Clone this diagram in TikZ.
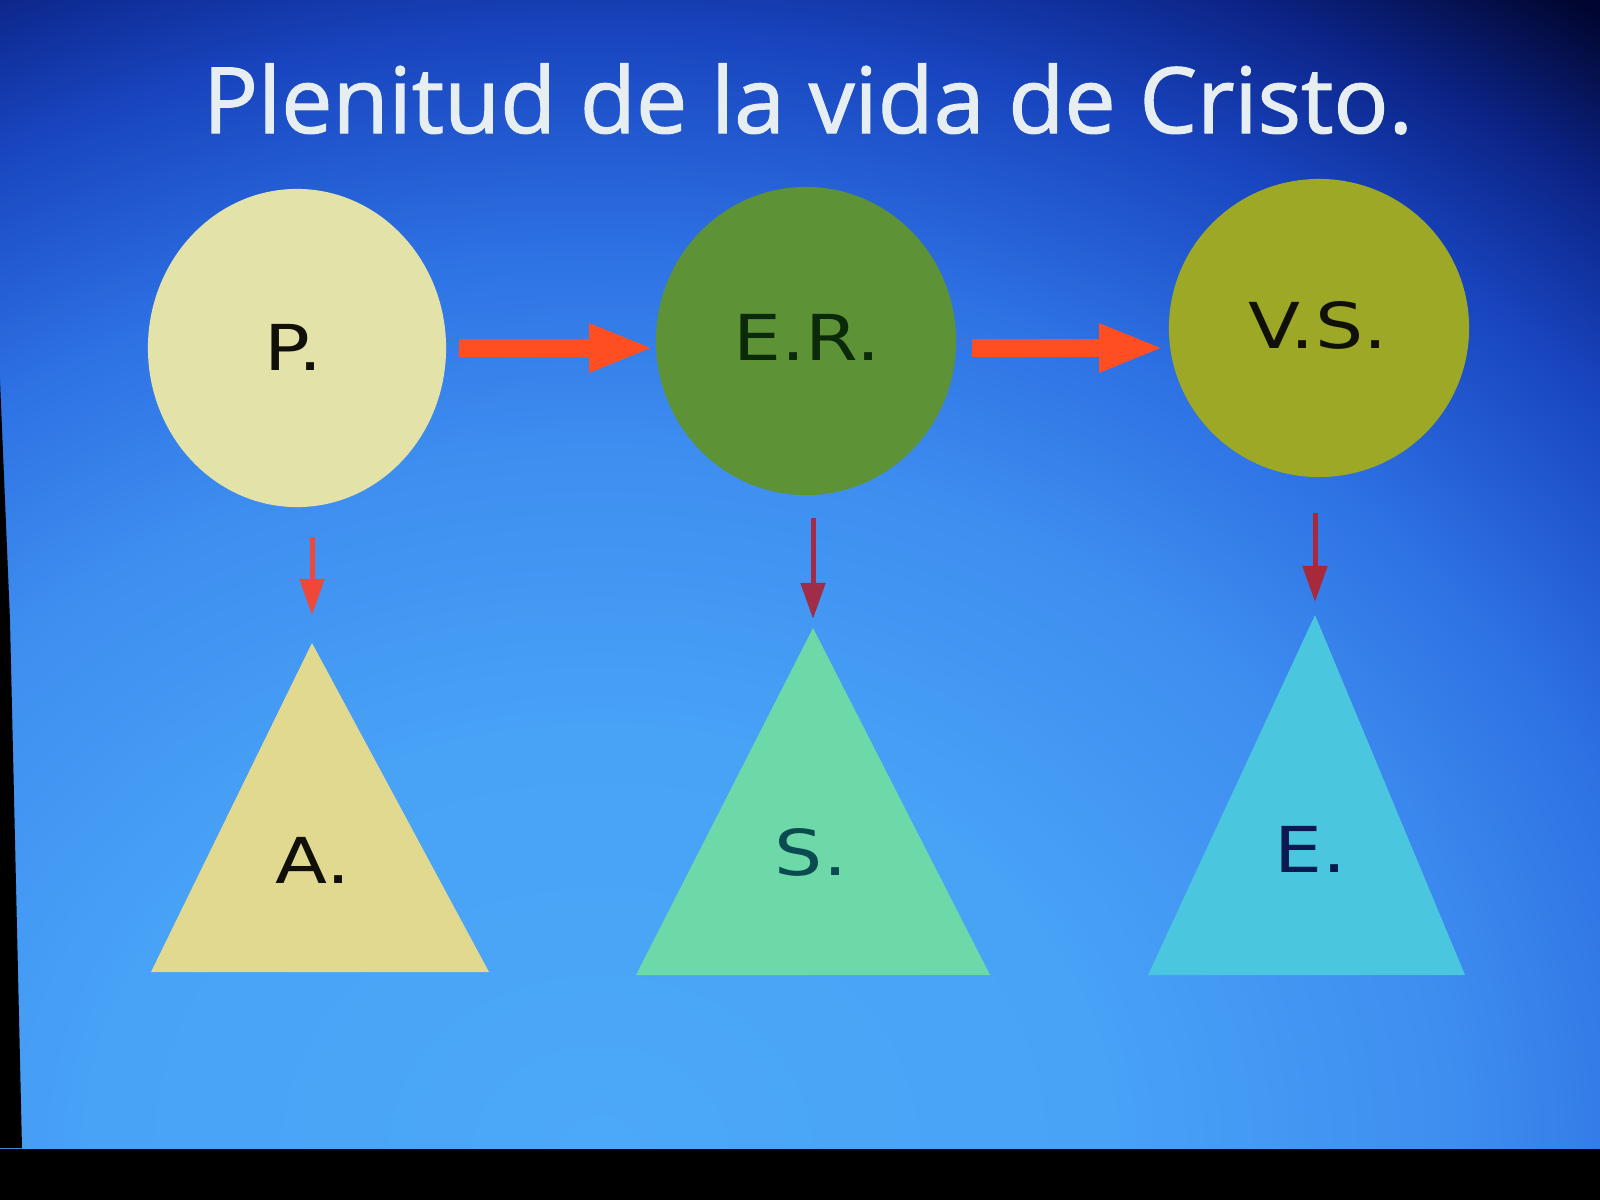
\documentclass[tikz,border=0pt]{standalone}
\usepackage{fontspec}
\usepackage{graphicx}
\setmainfont{DejaVu Sans}
\newfontfamily\titlefont{Open Sans}[FakeBold=1.3]
\usetikzlibrary{shapes.geometric,arrows.meta}
\definecolor{bgA}{HTML}{4CA8F8}
\definecolor{bgB}{HTML}{48A2F6}
\definecolor{bgC}{HTML}{3E8EF0}
\definecolor{bgD}{HTML}{2E72E4}
\definecolor{bgE}{HTML}{1844BE}
\definecolor{bgF}{HTML}{0C2488}
\definecolor{bgG}{HTML}{010630}
\definecolor{titlecol}{HTML}{E6EEF2}
\definecolor{cAcol}{HTML}{E3E2A9}
\definecolor{cBcol}{HTML}{5E9236}
\definecolor{cCcol}{HTML}{9CA826}
\definecolor{tAcol}{HTML}{E0D98F}
\definecolor{tBcol}{HTML}{6ED9A8}
\definecolor{tCcol}{HTML}{4AC6DE}
\definecolor{harcol}{HTML}{FF4E22}
\definecolor{dAcol}{HTML}{F04838}
\definecolor{dBcol}{HTML}{A02C48}
\definecolor{dCcol}{HTML}{A62A3C}
\definecolor{labA}{HTML}{101008}
\definecolor{labB}{HTML}{0A2A0A}
\definecolor{labS}{HTML}{0A4A50}
\definecolor{labE}{HTML}{0A1A50}
\pgfdeclareradialshading{bgrad}{\pgfpoint{0bp}{0bp}}{color(0bp)=(bgA); color(15bp)=(bgB); color(25bp)=(bgC); color(32bp)=(bgD); color(40bp)=(bgE); color(45bp)=(bgF); color(50bp)=(bgG)}
\newcommand{\lbltext}[1]{\scalebox{1.2}[1]{#1}}
\begin{document}
\begin{tikzpicture}[x=0.01cm,y=-0.01cm,
  blob/.style={ellipse, draw=none, inner sep=0pt},
  lab/.style={font=\fontsize{18}{20}\selectfont, anchor=base, inner sep=0pt},
  harrow/.style={draw=harcol, line width=0.18cm, -{Triangle[width=0.44cm,length=0.65cm]}},
  darrow/.style={line width=0.05cm, -{Triangle[width=0.24cm,length=0.36cm]}}]
\useasboundingbox (0,0) rectangle (1600,1200);
\fill[black] (0,0) rectangle (1600,1200);
\begin{scope}
  \clip (0,0) rectangle (1600,1148);
  \fill[bgG] (0,0) rectangle (1600,1148);
  \node[inner sep=0pt] (bg) at (600,1150) {\scalebox{9.638}[7.937]{\pgfuseshading{bgrad}}};
  \fill[black] (0,380) -- (10,620) -- (22,1148) -- (0,1148) -- cycle;
\end{scope}
% title
\node[font=\titlefont\fontsize{26}{30}\selectfont, text=titlecol, anchor=base, inner sep=0pt] (title) at (808,133) {Plenitud de la vida de Cristo.};
% circles
\node[blob, fill=cAcol, minimum width=2.98cm, minimum height=3.18cm] (c1) at (297,348) {};
\node[blob, fill=cBcol, minimum width=3.00cm, minimum height=3.08cm] (c2) at (806,341) {};
\node[blob, fill=cCcol, minimum width=3.00cm, minimum height=2.98cm] (c3) at (1319,328) {};
\node[lab, text=labA] (lp) at (294,370) {\lbltext{P.}};
\node[lab, text=labB] (ler) at (807,360) {\lbltext{E.R.}};
\node[lab, text=labA] (lvs) at (1318,348) {\lbltext{V.S.}};
% triangles
\coordinate (t1top) at (312,643);
\coordinate (t2top) at (813,628);
\coordinate (t3top) at (1315,615);
\fill[tAcol] (t1top) -- (489,972) -- (151,972) -- cycle;
\fill[tBcol] (t2top) -- (990,975) -- (636,975) -- cycle;
\fill[tCcol] (t3top) -- (1465,975) -- (1148,975) -- cycle;
\node[lab, text=labA] (la) at (313,883) {\lbltext{A.}};
\node[lab, text=labS] (ls) at (811,875) {\lbltext{S.}};
\node[lab, text=labE] (le) at (1311,872) {\lbltext{E.}};
% horizontal arrows
\draw[harrow, shorten <=0.12cm, shorten >=0.01cm] (c1.east) -- (c2.west |- c1.east);
\draw[harrow, shorten <=0.15cm, shorten >=0.04cm] (c2.east |- c1.east) -- (c3.west |- c1.east);
% down arrows
\draw[darrow, draw=dAcol, shorten <=0.29cm, shorten >=0.28cm] (c1.south -| t1top) -- (t1top);
\draw[darrow, draw=dBcol, shorten <=0.22cm, shorten >=0.09cm] (c2.south -| t2top) -- (t2top);
\draw[darrow, draw=dCcol, shorten <=0.35cm, shorten >=0.13cm] (c3.south -| t3top) -- (t3top);
\end{tikzpicture}
\end{document}
